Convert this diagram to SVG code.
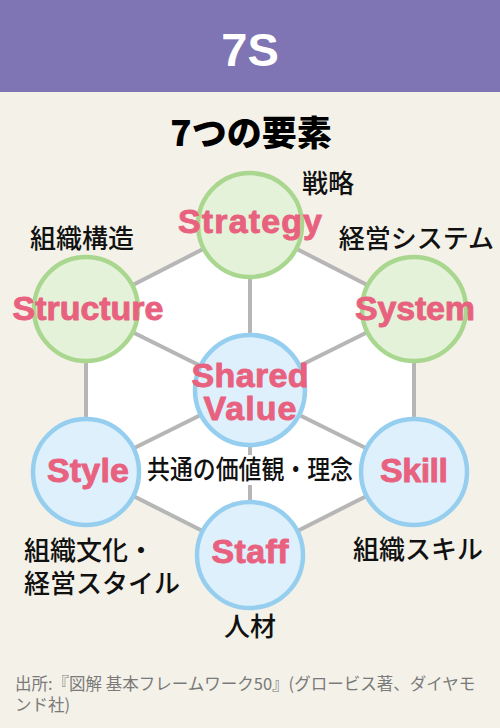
<svg xmlns="http://www.w3.org/2000/svg" width="500" height="728" viewBox="0 0 500 728">
<style>
.lbl{font-family:"Noto Sans CJK JP","Noto Sans",sans-serif;font-weight:500;font-size:26px;fill:#111}
.en{font-family:"Liberation Sans","Noto Sans",sans-serif;font-weight:700;font-size:34px;fill:#e8617f;stroke:#e8617f;stroke-width:0.9;stroke-linejoin:round;text-anchor:middle}
.g{fill:#e3f2d8;stroke:#aad78f;stroke-width:4.5}
.b{fill:#def0fb;stroke:#96ceef;stroke-width:4.5}
.ln{stroke:#b6b6b6;stroke-width:4;fill:none}
.src{font-family:"Noto Sans CJK JP","Noto Sans",sans-serif;font-size:16.5px;fill:#7a7a7a}
</style>
<rect width="500" height="728" fill="#f4f1e8"/>
<rect width="500" height="92" fill="#8075b4"/>
<text x="250" y="66" font-family="Liberation Sans,sans-serif" font-weight="700" font-size="47" fill="#fff" text-anchor="middle">7S</text>
<text x="251" y="146" font-family="Noto Sans CJK JP,sans-serif" font-weight="900" font-size="35" fill="#000" text-anchor="middle">7つの要素</text>
<polygon points="250,225 414,309 414,472 250,555 86,472 86,309" fill="#fff"/>
<g id="connectors">
<polygon class="ln" points="250,225 414,309 414,472 250,555 86,472 86,309"/>
<line class="ln" x1="250" y1="225" x2="250" y2="555"/>
<line class="ln" x1="86" y1="309" x2="414" y2="472"/>
<line class="ln" x1="414" y1="309" x2="86" y2="472"/>
</g>
<g id="strategy"><circle class="g" cx="250" cy="225" r="52"/><text class="en" x="250" y="233" textLength="144" lengthAdjust="spacing">Strategy</text><text class="lbl" x="302" y="193" font-size="25">戦略</text></g>
<g id="structure"><circle class="g" cx="86" cy="309" r="52"/><text class="en" x="88" y="320" textLength="151" lengthAdjust="spacing">Structure</text><text class="lbl" x="30" y="248">組織構造</text></g>
<g id="system"><circle class="g" cx="414" cy="309" r="52"/><text class="en" x="415" y="320" textLength="120" lengthAdjust="spacing">System</text><text class="lbl" x="494" y="248" text-anchor="end" font-size="25">経営システム</text></g>
<g id="shared-value"><circle class="b" cx="250" cy="390" r="55"/><text class="en" x="250" y="387" textLength="117" lengthAdjust="spacing">Shared</text><text class="en" x="250" y="420" textLength="93" lengthAdjust="spacing">Value</text><rect x="144" y="455" width="212" height="30" fill="#fff"/><text class="lbl" x="250" y="479" font-size="22" text-anchor="middle" textLength="206" lengthAdjust="spacingAndGlyphs">共通の価値観・理念</text></g>
<g id="style"><circle class="b" cx="86" cy="472" r="53"/><text class="en" x="88" y="482" textLength="82" lengthAdjust="spacing">Style</text><text class="lbl" x="24" y="560">組織文化・</text><text class="lbl" x="24" y="593" font-size="25">経営スタイル</text></g>
<g id="skill"><circle class="b" cx="414" cy="472" r="53"/><text class="en" x="414" y="482" textLength="68" lengthAdjust="spacing">Skill</text><text class="lbl" x="418" y="559" text-anchor="middle">組織スキル</text></g>
<g id="staff"><circle class="b" cx="250" cy="555" r="53"/><text class="en" x="250" y="563" textLength="77" lengthAdjust="spacing">Staff</text><text class="lbl" x="250" y="636" text-anchor="middle">人材</text></g>
<text class="src" x="15" y="690">出所:『図解 基本フレームワーク50』(グロービス著、ダイヤモ</text>
<text class="src" x="15" y="711">ンド社)</text>
</svg>
